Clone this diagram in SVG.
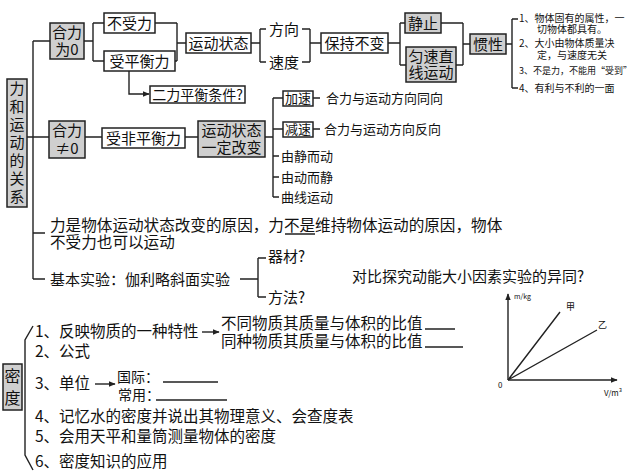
<svg xmlns="http://www.w3.org/2000/svg" width="640" height="476" viewBox="0 0 640 476">
<defs>
<style>
text{font-family:"Noto Sans CJK SC","Noto Sans",sans-serif;fill:#111;}
.b{fill:#fff;stroke:#222;stroke-width:1.5;}
.g{fill:#cfcfcf;stroke:#222;stroke-width:1.5;}
.c{fill:none;stroke:#222;stroke-width:1.4;}
.t15{font-size:15px;}
.t16{font-size:16px;}
.t13{font-size:13px;}
.t12{font-size:12px;}
.t10{font-size:10px;}
.m{text-anchor:middle;}
</style>
<marker id="ar" viewBox="0 0 10 10" refX="9" refY="5" markerWidth="7" markerHeight="7" orient="auto" markerUnits="userSpaceOnUse">
<path d="M0,1 L10,5 L0,9 Z" fill="#222"/>
</marker>
</defs>
<rect width="640" height="476" fill="#fff"/>

<g id="connectors">
<path class="c" d="M27 137 H49 M33 41 V279 M33 41 H50"/>
<path class="c" d="M84 41 H93 M93 23 V61 M93 23 H104 M93 61 H104"/>
<path class="c" d="M155 23 H177 M175 61 H177 M177 23 V61 M177 43 H186"/>
<path class="c" d="M251 43 H260 M260 29 V62 M260 29 H266 M260 62 H266"/>
<path class="c" d="M302 29 H310 M302 62 H310 M310 29 V62 M310 43 H321"/>
<path class="c" d="M388 43 H400 M400 23 V65 M400 23 H405 M400 65 H406"/>
<path class="c" d="M441 23 H463 M456 65 H463 M463 23 V65 M463 44 H470"/>
<path class="c" d="M506 44 H512 M512 19 V88 M512 19 H518 M512 88 H518"/>
<path class="c" d="M129 71 V94 H149" marker-end="url(#ar)"/>
<path class="c" d="M85 137 H102 M185 137 H198 M265 137 H273 M273 98 V197"/>
<path class="c" d="M273 98 H283 M273 129 H283 M273 156 H279 M273 177 H279 M273 197 H279 M313 98 H320 M313 129 H320"/>
<path class="c" d="M33 233 H45 M33 279 H45 M240 279 H258 M258 258 V297 M258 258 H266 M258 297 H266"/>
<path class="c" d="M33 326 L25 340 V455 L33 470"/>
<path class="c" d="M202 332 H219" marker-end="url(#ar)"/>
<path class="c" d="M95 384 H115" marker-end="url(#ar)"/>
<path class="c" d="M425 329 H455 M425 347 H463 M163 382 H218 M156 400 H227 M285 234 H315"/>
</g>

<g id="n-main">
<rect class="g" x="7" y="79" width="20" height="128"/>
<text class="m" font-size="15" x="17"><tspan x="17" y="94">力</tspan><tspan x="17" y="112">和</tspan><tspan x="17" y="130">运</tspan><tspan x="17" y="148">动</tspan><tspan x="17" y="166">的</tspan><tspan x="17" y="184">关</tspan><tspan x="17" y="202">系</tspan></text>
</g>
<g id="n-hl0">
<rect class="g" x="50" y="23" width="34" height="36"/>
<text class="t15 m"><tspan x="67" y="38">合力</tspan><tspan x="67" y="55">为0</tspan></text>
</g>
<g id="n-bsl"><rect class="b" x="104" y="13" width="51" height="20"/><text class="t15 m" x="129.5" y="28.5">不受力</text></g>
<g id="n-spl"><rect class="b" x="104" y="51" width="71" height="20"/><text class="t15 m" x="139.5" y="66.5">受平衡力</text></g>
<g id="n-elph"><rect class="b" x="150" y="86" width="95" height="17"/><text class="m" font-size="14" x="197.5" y="99.5">二力平衡条件?</text></g>
<g id="n-ydzt"><rect class="b" x="186" y="33" width="65" height="20"/><text class="t15 m" x="218.5" y="48.5">运动状态</text></g>
<g id="n-fx"><text class="t15 m" x="284" y="34.5">方向</text></g>
<g id="n-sd"><text class="t15 m" x="284" y="67.5">速度</text></g>
<g id="n-bcbb"><rect class="b" x="321" y="33" width="67" height="20"/><text class="t15 m" x="354.5" y="48.5">保持不变</text></g>
<g id="n-jz"><rect class="g" x="405" y="13" width="36" height="20"/><text class="t15 m" x="423" y="28.5">静止</text></g>
<g id="n-ys"><rect class="g" x="406" y="47" width="50" height="35"/><text class="t15 m"><tspan x="431" y="62">匀速直</tspan><tspan x="431" y="78">线运动</tspan></text></g>
<g id="n-gx"><rect class="g" x="470" y="34" width="36" height="20"/><text class="t15 m" x="488" y="49.5">惯性</text></g>
<g id="n-gxnote" class="t10">
<text x="519" y="22">1、物体固有的属性，一</text>
<text x="537" y="33">切物体都具有。</text>
<text x="519" y="47">2、大小由物体质量决</text>
<text x="537" y="59">定，与速度无关</text>
<text x="519" y="74" font-size="9">3、不是力，不能用“受到”</text>
<text x="519" y="92">4、有利与不利的一面</text>
</g>

<g id="n-hln0">
<rect class="g" x="49" y="121" width="36" height="37"/>
<text class="t15 m"><tspan x="67" y="136">合力</tspan><tspan x="67" y="154">≠0</tspan></text>
</g>
<g id="n-sfph"><rect class="b" x="102" y="128" width="83" height="20"/><text class="t15 m" x="143.5" y="143.5">受非平衡力</text></g>
<g id="n-ydgb"><rect class="g" x="198" y="121" width="67" height="36"/><text class="t15 m"><tspan x="231.5" y="136">运动状态</tspan><tspan x="231.5" y="153">一定改变</tspan></text></g>
<g id="n-js"><rect class="b" x="283" y="91" width="30" height="15"/><text class="t13 m" x="298" y="103">加速</text></g>
<g id="n-jsn"><text class="t13" x="326" y="103">合力与运动方向同向</text></g>
<g id="n-jian"><rect class="b" x="283" y="122" width="30" height="15"/><text class="t13 m" x="298" y="134">减速</text></g>
<g id="n-jiann"><text class="t13" x="324" y="134">合力与运动方向反向</text></g>
<g id="n-jd"><text class="t13" x="281" y="161">由静而动</text></g>
<g id="n-dj"><text class="t13" x="281" y="182">由动而静</text></g>
<g id="n-qx"><text class="t13" x="281" y="202">曲线运动</text></g>

<g id="n-yy" class="t15">
<text x="50" y="231" font-size="15.6">力是物体运动状态改变的原因，力不是维持物体运动的原因，物体</text>
<text x="50" y="248" font-size="15.6">不受力也可以运动</text>
</g>
<g id="n-sy">
<text class="t15" x="50" y="285" font-size="15.5">基本实验：伽利略斜面实验</text>
<text class="t15" x="268" y="262">器材?</text>
<text class="t15" x="268" y="303">方法?</text>
</g>
<g id="n-db"><text class="t15" x="352" y="282" font-size="15.5">对比探究动能大小因素实验的异同?</text></g>

<g id="n-graph">
<path class="c" d="M508 380 V294" marker-end="url(#ar)"/>
<path class="c" d="M508 380 H617" marker-end="url(#ar)"/>
<path class="c" d="M508 380 L560 312 M508 380 L597 330"/>
<text x="514" y="299" font-size="7" font-family="Liberation Serif,serif">m/kg</text>
<text x="566" y="310" font-size="9">甲</text>
<text x="598" y="328" font-size="9">乙</text>
<text x="498" y="388" font-size="8" font-family="Liberation Serif,serif">0</text>
<text x="604" y="396" font-size="8" font-family="Liberation Serif,serif">V/m³</text>
</g>

<g id="n-md">
<rect class="g" x="3" y="364" width="19" height="46"/>
<text class="t16 m"><tspan x="12.5" y="382">密</tspan><tspan x="12.5" y="404">度</tspan></text>
</g>
<g id="n-mdlist" class="t15">
<text x="35" y="337" font-size="15.5">1、反映物质的一种特性</text>
<text x="221" y="328.5" font-size="15.5">不同物质其质量与体积的比值</text>
<text x="221" y="346.5" font-size="15.5">同种物质其质量与体积的比值</text>
<text x="35" y="357" font-size="15.5">2、公式</text>
<text x="35" y="389" font-size="15.5">3、单位</text>
<text x="117" y="382" font-size="14">国际：</text>
<text x="118" y="400" font-size="14">常用：</text>
<text x="35" y="422" font-size="15.5">4、记忆水的密度并说出其物理意义、会查度表</text>
<text x="35" y="442" font-size="15.5">5、会用天平和量筒测量物体的密度</text>
<text x="35" y="467" font-size="15.5">6、密度知识的应用</text>
</g>
</svg>
